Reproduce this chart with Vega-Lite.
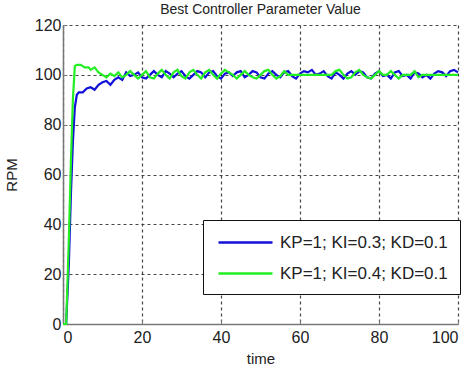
{
  "$schema": "https://vega.github.io/schema/vega-lite/v6.json",
  "autosize": "none",
  "width": 395,
  "height": 299,
  "padding": {"left": 63, "top": 25, "right": 16, "bottom": 45},
  "background": "white",
  "title": {"text": "Best Controller Parameter Value", "font": "Liberation Sans", "fontSize": 14, "fontWeight": "normal", "color": "#222", "offset": 0},
  "config": {
    "view": {"stroke": null},
    "axis": {"labelFont": "Liberation Sans", "titleFont": "Liberation Sans", "labelFontSize": 16, "titleFontSize": 15, "titleFontWeight": "normal", "labelColor": "#222", "titleColor": "#222", "domainColor": "#777", "domainWidth": 1.5, "tickColor": "#777", "tickSize": -4, "gridColor": "#333", "gridDash": [3, 3], "gridWidth": 1.2, "gridOpacity": 0.9, "labelPadding": 6}
  },
  "data": {"values": [
    {"t":0,"rpm":0,"k":0.3},{"t":0.8,"rpm":0,"k":0.3},{"t":1.5,"rpm":25,"k":0.3},{"t":2,"rpm":52,"k":0.3},{"t":2.5,"rpm":73,"k":0.3},{"t":3,"rpm":87,"k":0.3},{"t":3.5,"rpm":92,"k":0.3},{"t":4,"rpm":93,"k":0.3},{"t":5,"rpm":93,"k":0.3},{"t":6,"rpm":94.5,"k":0.3},{"t":7,"rpm":95,"k":0.3},{"t":8,"rpm":94,"k":0.3},{"t":9,"rpm":96,"k":0.3},{"t":10,"rpm":97,"k":0.3},{"t":11,"rpm":97.5,"k":0.3},{"t":12,"rpm":96,"k":0.3},{"t":13,"rpm":98,"k":0.3},{"t":14,"rpm":99,"k":0.3},{"t":15,"rpm":98,"k":0.3},{"t":16,"rpm":101,"k":0.3},
    {"t":17,"rpm":99.5,"k":0.3},{"t":18,"rpm":100,"k":0.3},{"t":19,"rpm":101,"k":0.3},{"t":20,"rpm":99,"k":0.3},{"t":21,"rpm":98.5,"k":0.3},{"t":22,"rpm":100,"k":0.3},{"t":23,"rpm":101.5,"k":0.3},{"t":24,"rpm":100,"k":0.3},{"t":25,"rpm":99,"k":0.3},{"t":26,"rpm":101.5,"k":0.3},{"t":27,"rpm":100.5,"k":0.3},{"t":28,"rpm":99,"k":0.3},{"t":29,"rpm":100.5,"k":0.3},{"t":30,"rpm":101.5,"k":0.3},{"t":31,"rpm":99.5,"k":0.3},{"t":32,"rpm":98.5,"k":0.3},{"t":33,"rpm":100,"k":0.3},{"t":34,"rpm":101.5,"k":0.3},{"t":35,"rpm":101,"k":0.3},{"t":36,"rpm":99,"k":0.3},{"t":37,"rpm":101,"k":0.3},{"t":38,"rpm":101.5,"k":0.3},{"t":39,"rpm":99.5,"k":0.3},{"t":40,"rpm":98.5,"k":0.3},{"t":41,"rpm":100.5,"k":0.3},{"t":42,"rpm":101,"k":0.3},{"t":43,"rpm":99.5,"k":0.3},{"t":44,"rpm":101,"k":0.3},{"t":45,"rpm":101.5,"k":0.3},{"t":46,"rpm":99,"k":0.3},{"t":47,"rpm":100,"k":0.3},{"t":48,"rpm":101.5,"k":0.3},{"t":49,"rpm":101,"k":0.3},{"t":50,"rpm":99,"k":0.3},{"t":51,"rpm":98.5,"k":0.3},{"t":52,"rpm":100.5,"k":0.3},{"t":53,"rpm":101.5,"k":0.3},{"t":54,"rpm":100,"k":0.3},{"t":55,"rpm":99,"k":0.3},{"t":56,"rpm":101,"k":0.3},{"t":57,"rpm":101.5,"k":0.3},{"t":58,"rpm":99.5,"k":0.3},{"t":59,"rpm":98.5,"k":0.3},{"t":60,"rpm":100.5,"k":0.3},{"t":61,"rpm":101.5,"k":0.3},{"t":62,"rpm":101,"k":0.3},{"t":63,"rpm":102,"k":0.3},{"t":64,"rpm":100,"k":0.3},{"t":65,"rpm":100.5,"k":0.3},{"t":66,"rpm":101.5,"k":0.3},{"t":67,"rpm":99.5,"k":0.3},{"t":68,"rpm":98.5,"k":0.3},{"t":69,"rpm":101,"k":0.3},{"t":70,"rpm":100,"k":0.3},{"t":71,"rpm":98.5,"k":0.3},{"t":72,"rpm":100.5,"k":0.3},{"t":73,"rpm":101.5,"k":0.3},{"t":74,"rpm":100,"k":0.3},{"t":75,"rpm":101.5,"k":0.3},{"t":76,"rpm":101,"k":0.3},{"t":77,"rpm":99,"k":0.3},{"t":78,"rpm":98.5,"k":0.3},{"t":79,"rpm":100.5,"k":0.3},{"t":80,"rpm":101.5,"k":0.3},{"t":81,"rpm":99.5,"k":0.3},{"t":82,"rpm":100,"k":0.3},{"t":83,"rpm":98.5,"k":0.3},{"t":84,"rpm":101,"k":0.3},{"t":85,"rpm":101.5,"k":0.3},{"t":86,"rpm":99.5,"k":0.3},{"t":87,"rpm":100,"k":0.3},{"t":88,"rpm":98.5,"k":0.3},{"t":89,"rpm":101,"k":0.3},{"t":90,"rpm":100.5,"k":0.3},{"t":91,"rpm":99,"k":0.3},{"t":92,"rpm":100,"k":0.3},{"t":93,"rpm":98.5,"k":0.3},{"t":94,"rpm":100.5,"k":0.3},{"t":95,"rpm":101.5,"k":0.3},{"t":96,"rpm":101,"k":0.3},{"t":97,"rpm":99.5,"k":0.3},{"t":98,"rpm":101.5,"k":0.3},{"t":99,"rpm":102,"k":0.3},{"t":100,"rpm":101,"k":0.3},
    {"t":0,"rpm":0,"k":0.4},{"t":0.8,"rpm":0,"k":0.4},{"t":1.5,"rpm":35,"k":0.4},{"t":2,"rpm":65,"k":0.4},{"t":2.5,"rpm":90,"k":0.4},{"t":3,"rpm":103.5,"k":0.4},{"t":3.5,"rpm":104,"k":0.4},{"t":4.5,"rpm":104,"k":0.4},{"t":5.5,"rpm":103,"k":0.4},{"t":6.5,"rpm":103,"k":0.4},{"t":7,"rpm":102,"k":0.4},{"t":8,"rpm":103,"k":0.4},{"t":9,"rpm":101,"k":0.4},
    {"t":10,"rpm":100,"k":0.4},{"t":11,"rpm":99,"k":0.4},{"t":12,"rpm":100.5,"k":0.4},{"t":13,"rpm":99.5,"k":0.4},{"t":14,"rpm":101,"k":0.4},{"t":15,"rpm":99,"k":0.4},{"t":16,"rpm":100,"k":0.4},{"t":17,"rpm":101.5,"k":0.4},{"t":18,"rpm":100,"k":0.4},{"t":19,"rpm":98.5,"k":0.4},{"t":20,"rpm":100,"k":0.4},{"t":21,"rpm":101.5,"k":0.4},{"t":22,"rpm":99,"k":0.4},{"t":23,"rpm":98.5,"k":0.4},{"t":24,"rpm":100.5,"k":0.4},{"t":25,"rpm":102,"k":0.4},{"t":26,"rpm":100,"k":0.4},{"t":27,"rpm":98.5,"k":0.4},{"t":28,"rpm":101,"k":0.4},{"t":29,"rpm":102,"k":0.4},{"t":30,"rpm":99.5,"k":0.4},{"t":31,"rpm":98.5,"k":0.4},{"t":32,"rpm":101,"k":0.4},{"t":33,"rpm":102,"k":0.4},{"t":34,"rpm":100,"k":0.4},{"t":35,"rpm":98.5,"k":0.4},{"t":36,"rpm":101,"k":0.4},{"t":37,"rpm":102,"k":0.4},{"t":38,"rpm":100,"k":0.4},{"t":39,"rpm":98.5,"k":0.4},{"t":40,"rpm":100.5,"k":0.4},{"t":41,"rpm":102,"k":0.4},{"t":42,"rpm":101,"k":0.4},{"t":43,"rpm":100,"k":0.4},{"t":44,"rpm":98.5,"k":0.4},{"t":45,"rpm":100,"k":0.4},{"t":46,"rpm":101.5,"k":0.4},{"t":47,"rpm":100,"k":0.4},{"t":48,"rpm":99,"k":0.4},{"t":49,"rpm":98.5,"k":0.4},{"t":50,"rpm":100,"k":0.4},{"t":51,"rpm":101.5,"k":0.4},{"t":52,"rpm":102,"k":0.4},{"t":53,"rpm":100,"k":0.4},{"t":54,"rpm":98.5,"k":0.4},{"t":55,"rpm":99.5,"k":0.4},{"t":56,"rpm":101.5,"k":0.4},{"t":57,"rpm":100,"k":0.4},{"t":68,"rpm":100,"k":0.4},{"t":69,"rpm":101.5,"k":0.4},{"t":70,"rpm":102,"k":0.4},{"t":71,"rpm":100,"k":0.4},{"t":72,"rpm":98.5,"k":0.4},{"t":73,"rpm":99,"k":0.4},{"t":74,"rpm":101,"k":0.4},{"t":75,"rpm":102,"k":0.4},{"t":76,"rpm":100,"k":0.4},{"t":77,"rpm":99,"k":0.4},{"t":78,"rpm":98.5,"k":0.4},{"t":79,"rpm":100,"k":0.4},{"t":80,"rpm":101.5,"k":0.4},{"t":81,"rpm":100,"k":0.4},{"t":82,"rpm":100,"k":0.4},{"t":83,"rpm":101.5,"k":0.4},{"t":84,"rpm":100,"k":0.4},{"t":85,"rpm":98.5,"k":0.4},{"t":86,"rpm":100,"k":0.4},{"t":88,"rpm":100,"k":0.4},{"t":89,"rpm":101.5,"k":0.4},{"t":90,"rpm":99,"k":0.4},{"t":91,"rpm":100,"k":0.4},{"t":100,"rpm":100,"k":0.4}
  ]},
  "mark": {"type": "line", "strokeWidth": 2.2, "interpolate": "linear"},
  "encoding": {
    "x": {"field": "t", "type": "quantitative", "scale": {"domain": [0, 100], "nice": false}, "axis": {"values": [0, 20, 40, 60, 80, 100], "title": "time", "titlePadding": 6, "labelPadding": 9, "grid": true}},
    "y": {"field": "rpm", "type": "quantitative", "scale": {"domain": [0, 120], "nice": false}, "axis": {"values": [0, 20, 40, 60, 80, 100, 120], "title": "RPM", "titlePadding": 15, "grid": true}},
    "color": {"field": "k", "type": "nominal", "scale": {"domain": [0.3, 0.4], "range": ["#1010d8", "#22ee22"]},
      "legend": {"orient": "none", "legendX": 140, "legendY": 195, "title": null, "symbolType": "M-3,0H3", "symbolSize": 324, "symbolOffset": 20, "symbolStrokeWidth": 2.5, "labelFont": "Liberation Sans", "labelFontSize": 17, "labelColor": "#222", "labelLimit": 0, "labelExpr": "'KP=1; KI=' + datum.label + '; KD=0.1'", "fillColor": "white", "strokeColor": "#111", "padding": 12, "rowPadding": 12, "labelOffset": 24}},
    "order": {"field": "t", "type": "quantitative"}
  }
}
